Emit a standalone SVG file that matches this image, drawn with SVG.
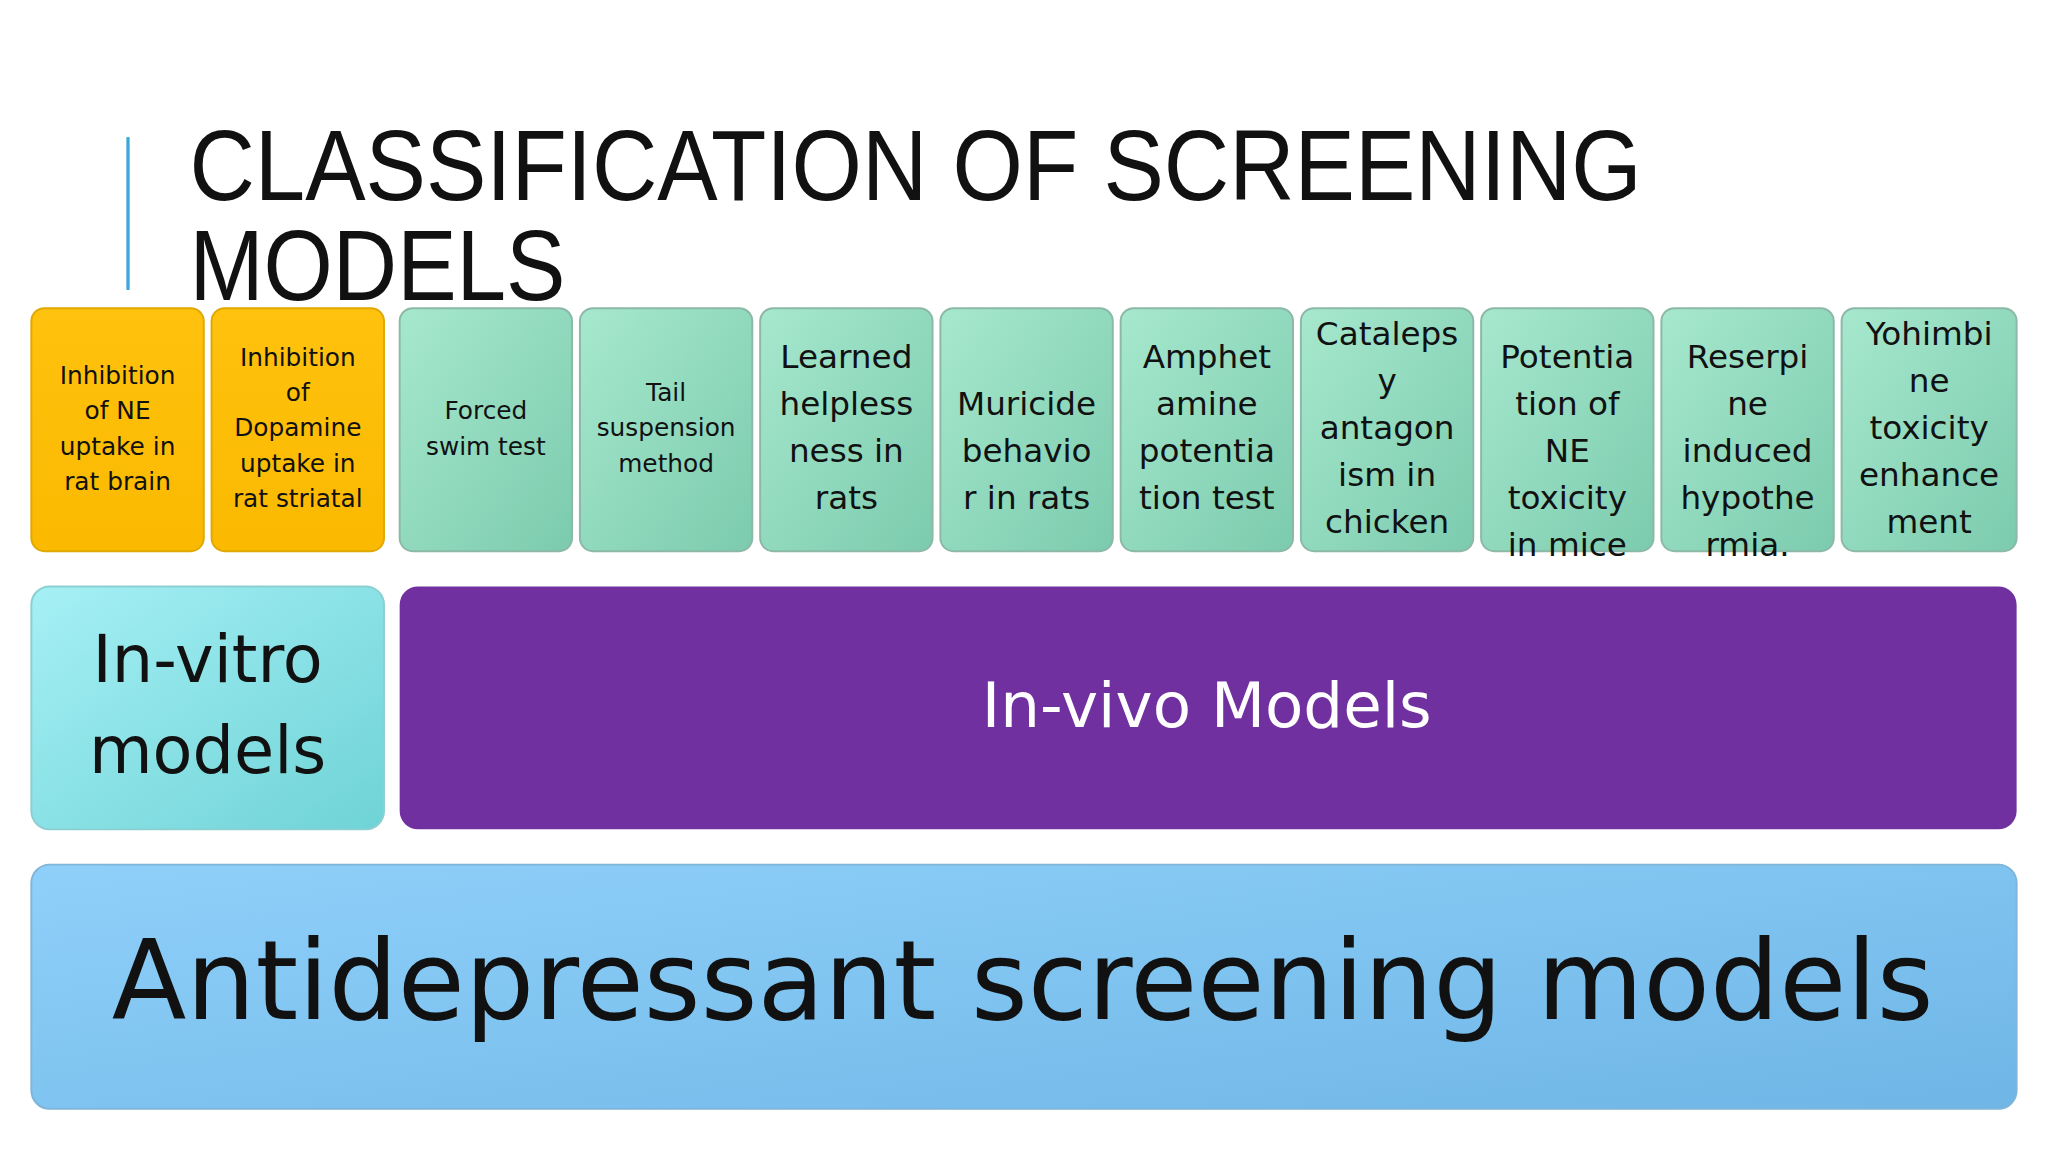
<svg xmlns="http://www.w3.org/2000/svg" width="2048" height="1152" viewBox="0 0 2048 1152">
<defs>
<linearGradient id="gO" x1="0" y1="0" x2="0" y2="1"><stop offset="0" stop-color="#FFC20E"/><stop offset="1" stop-color="#FBB900"/></linearGradient>
<linearGradient id="gG" x1="0" y1="0" x2="1" y2="1"><stop offset="0" stop-color="#A6E8CE"/><stop offset="1" stop-color="#7CCBAE"/></linearGradient>
<linearGradient id="gC" x1="0" y1="0" x2="1" y2="1"><stop offset="0" stop-color="#A5F0F5"/><stop offset="1" stop-color="#6FD3D6"/></linearGradient>
<linearGradient id="gB" x1="0" y1="0" x2="1" y2="1"><stop offset="0" stop-color="#8FD0FA"/><stop offset="1" stop-color="#6FB6E6"/></linearGradient>
<style>
.o{fill:url(#gO);stroke:#E0A800;stroke-width:1.5}
.g{fill:url(#gG);stroke:#8CB8A8;stroke-width:1.5}
.t{font-family:"DejaVu Sans",sans-serif;text-anchor:middle;fill:#111}
.s{font-size:19px}
.m{font-size:25px}
</style>
</defs>
<rect width="2048" height="1152" fill="#fff"/>
<g transform="scale(1.3061)">
<line x1="98" y1="105" x2="98" y2="222" stroke="#3BA7D9" stroke-width="2.5"/>
<g id="title" font-family="Liberation Sans, sans-serif" font-size="76" fill="#111">
<text x="145" y="153" textLength="1112" lengthAdjust="spacingAndGlyphs">CLASSIFICATION OF SCREENING</text>
<text x="145" y="230" textLength="288" lengthAdjust="spacingAndGlyphs">MODELS</text>
</g>
<g id="n1"><rect class="o" x="24" y="236" width="132" height="186" rx="10"/><text class="t s"><tspan x="90" y="294">Inhibition</tspan><tspan x="90" y="321">of NE</tspan><tspan x="90" y="348">uptake in</tspan><tspan x="90" y="375">rat brain</tspan></text></g>
<g id="n2"><rect class="o" x="162" y="236" width="132" height="186" rx="10"/><text class="t s"><tspan x="228" y="280">Inhibition</tspan><tspan x="228" y="307">of</tspan><tspan x="228" y="334">Dopamine</tspan><tspan x="228" y="361">uptake in</tspan><tspan x="228" y="388">rat striatal</tspan></text></g>
<g id="n3"><rect class="g" x="306" y="236" width="132" height="186" rx="10"/><text class="t s"><tspan x="372" y="321">Forced</tspan><tspan x="372" y="348">swim test</tspan></text></g>
<g id="n4"><rect class="g" x="444" y="236" width="132" height="186" rx="10"/><text class="t s"><tspan x="510" y="307">Tail</tspan><tspan x="510" y="334">suspension</tspan><tspan x="510" y="361">method</tspan></text></g>
<g id="n5"><rect class="g" x="582" y="236" width="132" height="186" rx="10"/><text class="t m"><tspan x="648" y="282">Learned</tspan><tspan x="648" y="318">helpless</tspan><tspan x="648" y="354">ness in</tspan><tspan x="648" y="390">rats</tspan></text></g>
<g id="n6"><rect class="g" x="720" y="236" width="132" height="186" rx="10"/><text class="t m"><tspan x="786" y="318">Muricide</tspan><tspan x="786" y="354">behavio</tspan><tspan x="786" y="390">r in rats</tspan></text></g>
<g id="n7"><rect class="g" x="858" y="236" width="132" height="186" rx="10"/><text class="t m"><tspan x="924" y="282">Amphet</tspan><tspan x="924" y="318">amine</tspan><tspan x="924" y="354">potentia</tspan><tspan x="924" y="390">tion test</tspan></text></g>
<g id="n8"><rect class="g" x="996" y="236" width="132" height="186" rx="10"/><text class="t m"><tspan x="1062" y="264">Cataleps</tspan><tspan x="1062" y="300">y</tspan><tspan x="1062" y="336">antagon</tspan><tspan x="1062" y="372">ism in</tspan><tspan x="1062" y="408">chicken</tspan></text></g>
<g id="n9"><rect class="g" x="1134" y="236" width="132" height="186" rx="10"/><text class="t m"><tspan x="1200" y="282">Potentia</tspan><tspan x="1200" y="318">tion of</tspan><tspan x="1200" y="354">NE</tspan><tspan x="1200" y="390">toxicity</tspan><tspan x="1200" y="426">in mice</tspan></text></g>
<g id="n10"><rect class="g" x="1272" y="236" width="132" height="186" rx="10"/><text class="t m"><tspan x="1338" y="282">Reserpi</tspan><tspan x="1338" y="318">ne</tspan><tspan x="1338" y="354">induced</tspan><tspan x="1338" y="390">hypothe</tspan><tspan x="1338" y="426">rmia.</tspan></text></g>
<g id="n11"><rect class="g" x="1410" y="236" width="134" height="186" rx="10"/><text class="t m"><tspan x="1477" y="264">Yohimbi</tspan><tspan x="1477" y="300">ne</tspan><tspan x="1477" y="336">toxicity</tspan><tspan x="1477" y="372">enhance</tspan><tspan x="1477" y="408">ment</tspan></text></g>
<g id="invitro"><rect x="24" y="449" width="270" height="186" rx="14" fill="url(#gC)" stroke="#8CCFD2" stroke-width="1.5"/><text class="t" font-size="50"><tspan x="159" y="522">In-vitro</tspan><tspan x="159" y="592">models</tspan></text></g>
<g id="invivo"><rect x="306" y="449" width="1238" height="186" rx="14" fill="#7030A0"/><text class="t" font-size="48" fill="#fff" x="924" y="557" style="fill:#fff">In-vivo Models</text></g>
<g id="base"><rect x="24" y="662" width="1520" height="187" rx="14" fill="url(#gB)" stroke="#7FB5D8" stroke-width="1.5"/><text class="t" font-size="84" x="783" y="780" textLength="1395" lengthAdjust="spacingAndGlyphs">Antidepressant screening models</text></g>
<g id="connectors"/>
</g>
</svg>
